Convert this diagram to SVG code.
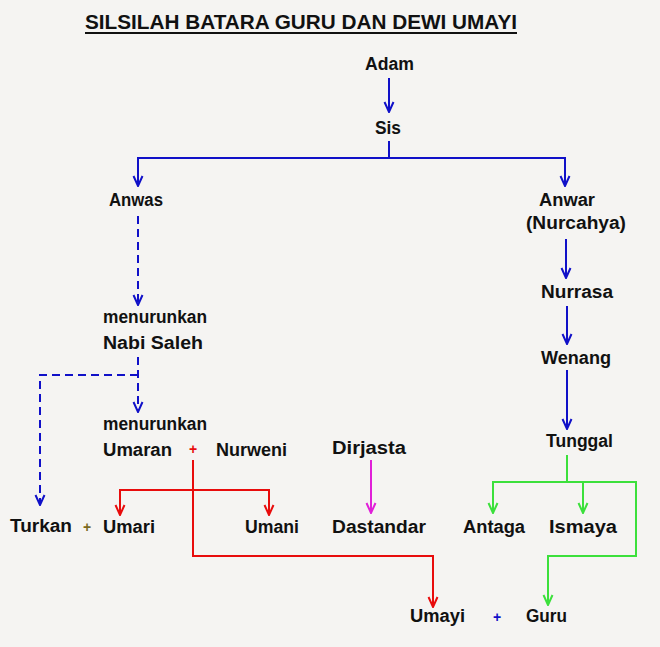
<svg xmlns="http://www.w3.org/2000/svg" width="660" height="647" viewBox="0 0 660 647">
<style>
text{font-family:"Liberation Sans","DejaVu Sans",sans-serif;font-weight:bold;font-size:18px;fill:#111}
.t{font-size:20px}
.c{fill:none;stroke-width:2}
.b{stroke:#1010c8}
.r{stroke:#e80c0c}
.g{stroke:#3ce03c}
.m{stroke:#e020d8}
.d{stroke-dasharray:8 5}
</style>
<defs>
<marker id="ab" viewBox="0 0 12 12" refX="11" refY="6" markerWidth="12" markerHeight="12" markerUnits="userSpaceOnUse" orient="auto-start-reverse"><path d="M1,1.5 L11,6 L1,10.5" fill="none" stroke="#1010c8" stroke-width="2"/></marker>
<marker id="ar" viewBox="0 0 12 12" refX="11" refY="6" markerWidth="12" markerHeight="12" markerUnits="userSpaceOnUse" orient="auto-start-reverse"><path d="M1,1.5 L11,6 L1,10.5" fill="none" stroke="#e80c0c" stroke-width="2"/></marker>
<marker id="ag" viewBox="0 0 12 12" refX="11" refY="6" markerWidth="12" markerHeight="12" markerUnits="userSpaceOnUse" orient="auto-start-reverse"><path d="M1,1.5 L11,6 L1,10.5" fill="none" stroke="#3ce03c" stroke-width="2"/></marker>
<marker id="am" viewBox="0 0 12 12" refX="11" refY="6" markerWidth="12" markerHeight="12" markerUnits="userSpaceOnUse" orient="auto-start-reverse"><path d="M1,1.5 L11,6 L1,10.5" fill="none" stroke="#e020d8" stroke-width="2"/></marker>
</defs>
<rect width="660" height="647" fill="#f5f4f2"/>
<g id="title">
<text class="t" x="85" y="29" textLength="432" lengthAdjust="spacingAndGlyphs">SILSILAH BATARA GURU DAN DEWI UMAYI</text>
<line x1="85" y1="33" x2="517" y2="33" stroke="#111" stroke-width="2"/>
</g>
<g id="connectors">
<line class="c b" x1="389" y1="78" x2="389" y2="112" marker-end="url(#ab)"/>
<polyline class="c b" points="389,141 389,158"/>
<polyline class="c b" points="138,186 138,158 565,158 565,186" marker-end="url(#ab)" marker-start="url(#ab)"/>
<line class="c b d" x1="138" y1="216" x2="138" y2="305" marker-end="url(#ab)"/>
<line class="c b" x1="566" y1="239" x2="566" y2="278" marker-end="url(#ab)"/>
<line class="c b" x1="567" y1="306" x2="567" y2="344" marker-end="url(#ab)"/>
<line class="c b" x1="567" y1="370" x2="567" y2="429" marker-end="url(#ab)"/>
<line class="c b d" x1="138" y1="357" x2="138" y2="412" marker-end="url(#ab)"/>
<polyline class="c b d" points="138,375 40,375 40,505" marker-end="url(#ab)"/>
<polyline class="c r" points="193,460 193,556 433,556 433,607" marker-end="url(#ar)"/>
<polyline class="c r" points="120,515 120,490 269,490 269,515" marker-start="url(#ar)" marker-end="url(#ar)"/>
<line class="c m" x1="371" y1="460" x2="371" y2="513" marker-end="url(#am)"/>
<line class="c g" x1="567" y1="455" x2="567" y2="482"/>
<polyline class="c g" points="493,513 493,482 636,482 636,556 548,556 548,605" marker-start="url(#ag)" marker-end="url(#ag)"/>
<line class="c g" x1="583" y1="482" x2="583" y2="513" marker-end="url(#ag)"/>
</g>
<g id="adam"><text x="365" y="70" textLength="49" lengthAdjust="spacingAndGlyphs">Adam</text></g>
<g id="sis"><text x="375" y="134" textLength="26" lengthAdjust="spacingAndGlyphs">Sis</text></g>
<g id="anwas"><text x="109" y="206" textLength="54" lengthAdjust="spacingAndGlyphs">Anwas</text></g>
<g id="anwar">
<text x="539" y="206" textLength="56" lengthAdjust="spacingAndGlyphs">Anwar</text>
<text x="526" y="229" textLength="100" lengthAdjust="spacingAndGlyphs">(Nurcahya)</text>
</g>
<g id="nabi-saleh">
<text x="103" y="323" textLength="104" lengthAdjust="spacingAndGlyphs">menurunkan</text>
<text x="103" y="349" textLength="100" lengthAdjust="spacingAndGlyphs">Nabi Saleh</text>
</g>
<g id="nurrasa"><text x="541" y="298" textLength="72" lengthAdjust="spacingAndGlyphs">Nurrasa</text></g>
<g id="wenang"><text x="541" y="364" textLength="70" lengthAdjust="spacingAndGlyphs">Wenang</text></g>
<g id="tunggal"><text x="546" y="447" textLength="67" lengthAdjust="spacingAndGlyphs">Tunggal</text></g>
<g id="umaran">
<text x="103" y="430" textLength="104" lengthAdjust="spacingAndGlyphs">menurunkan</text>
<text x="103" y="456" textLength="69" lengthAdjust="spacingAndGlyphs">Umaran</text>
</g>
<g id="plus-umaran"><text x="193" y="454" text-anchor="middle" style="font-size:14px;fill:#e80c0c">+</text></g>
<g id="nurweni"><text x="216" y="456" textLength="71" lengthAdjust="spacingAndGlyphs">Nurweni</text></g>
<g id="dirjasta"><text x="332" y="454" textLength="74" lengthAdjust="spacingAndGlyphs">Dirjasta</text></g>
<g id="turkan"><text x="10" y="532" textLength="62" lengthAdjust="spacingAndGlyphs">Turkan</text></g>
<g id="plus-turkan"><text x="87" y="532" text-anchor="middle" style="font-size:14px;fill:#7a6a20">+</text></g>
<g id="umari"><text x="103" y="533" textLength="52" lengthAdjust="spacingAndGlyphs">Umari</text></g>
<g id="umani"><text x="245" y="533" textLength="54" lengthAdjust="spacingAndGlyphs">Umani</text></g>
<g id="dastandar"><text x="332" y="533" textLength="94" lengthAdjust="spacingAndGlyphs">Dastandar</text></g>
<g id="antaga"><text x="463" y="533" textLength="62" lengthAdjust="spacingAndGlyphs">Antaga</text></g>
<g id="ismaya"><text x="549" y="533" textLength="68" lengthAdjust="spacingAndGlyphs">Ismaya</text></g>
<g id="umayi"><text x="410" y="622" textLength="55" lengthAdjust="spacingAndGlyphs">Umayi</text></g>
<g id="plus-umayi"><text x="497" y="622" text-anchor="middle" style="font-size:14px;fill:#1010c8">+</text></g>
<g id="guru"><text x="526" y="622" textLength="41" lengthAdjust="spacingAndGlyphs">Guru</text></g>
</svg>
